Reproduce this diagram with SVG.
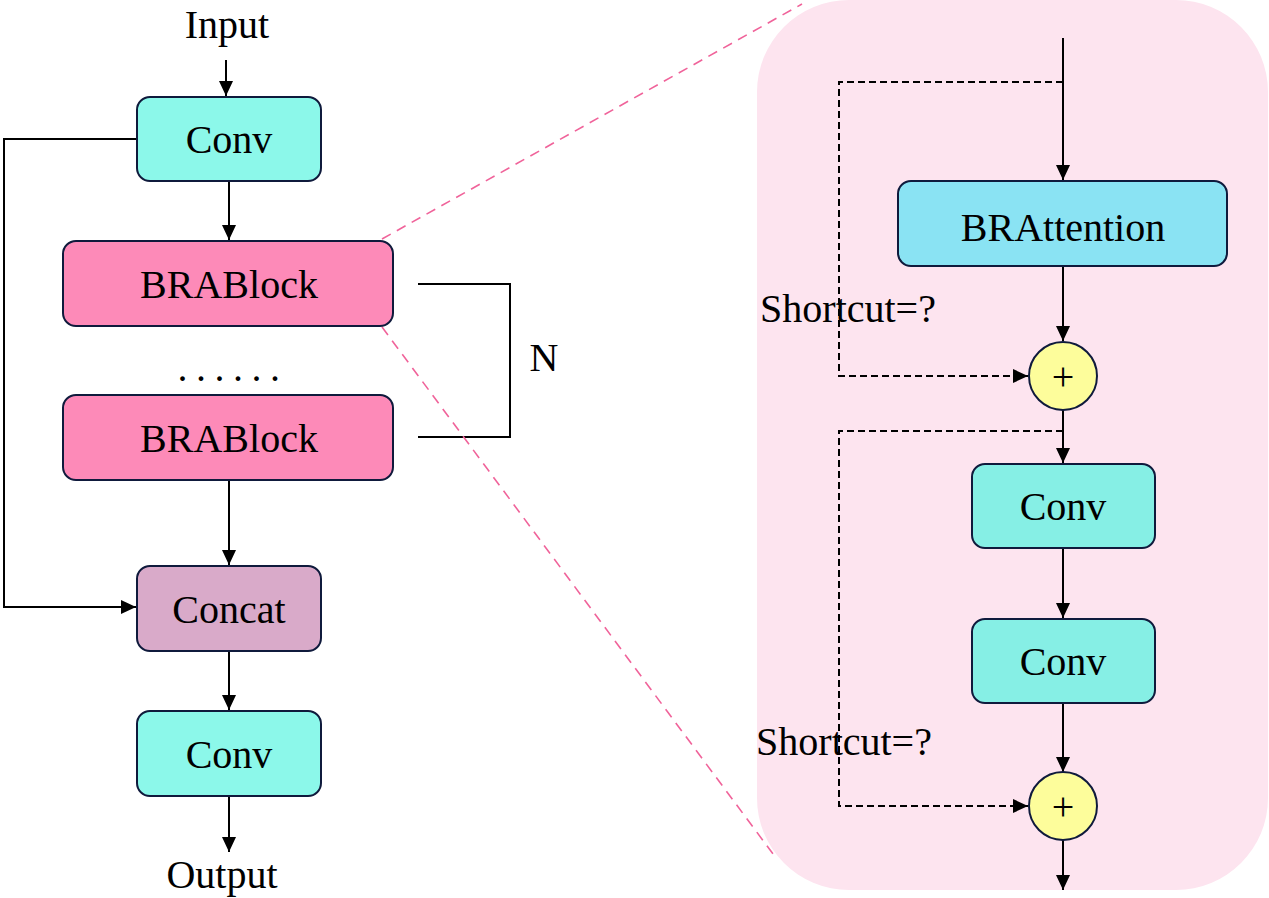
<svg xmlns="http://www.w3.org/2000/svg" width="1269" height="898" viewBox="0 0 1269 898">
<style>
  .t { font-family: "Liberation Serif", "Times New Roman", serif; font-size: 40px; fill: #000; text-anchor: middle; }
  .box { stroke: #0f1a3c; stroke-width: 2; }
  .conv { fill: #8cf8ea; }
  .conv2 { fill: #86efe5; }
  .bra { fill: #fd8ab8; }
  .concat { fill: #d9aac9; }
  .att { fill: #8ae3f3; }
  .add { fill: #fdfd9b; stroke: #0f1a3c; stroke-width: 2; }
  .plus { font-size: 40px; font-weight: 300; }
  .ln { fill: none; stroke: #000; stroke-width: 2; }
  .dash { fill: none; stroke: #000; stroke-width: 2; stroke-dasharray: 7 4; }
  .pink { fill: none; stroke: #f0639a; stroke-width: 1.6; stroke-dasharray: 10 7; }
</style>
<defs>
  <marker id="arr" markerUnits="userSpaceOnUse" markerWidth="15" markerHeight="14" refX="15" refY="7" orient="auto">
    <path d="M0,0 L15,7 L0,14 z" fill="#000"/>
  </marker>
</defs>

<!-- zoom panel -->
<g id="panel">
  <rect x="757" y="0" width="511" height="890" rx="92" ry="92" fill="#fde4ef"/>
</g>

<g id="connectors">
  <!-- left column -->
  <line class="ln" x1="226" y1="60" x2="226" y2="96" marker-end="url(#arr)"/>
  <line class="ln" x1="229" y1="181" x2="229" y2="240" marker-end="url(#arr)"/>
  <line class="ln" x1="229" y1="480" x2="229" y2="565" marker-end="url(#arr)"/>
  <line class="ln" x1="229" y1="651" x2="229" y2="710" marker-end="url(#arr)"/>
  <line class="ln" x1="229" y1="796" x2="229" y2="852" marker-end="url(#arr)"/>
  <polyline class="ln" points="137,139 4,139 4,607 136,607" marker-end="url(#arr)"/>
  <!-- N bracket -->
  <polyline class="ln" points="418,284 510,284 510,437 418,437"/>
  <!-- zoom lines -->
  <line class="pink" x1="382" y1="239" x2="802" y2="4"/>
  <line class="pink" x1="382" y1="327" x2="776" y2="858"/>
  <!-- right column -->
  <line class="ln" x1="1063" y1="38" x2="1063" y2="180" marker-end="url(#arr)"/>
  <line class="ln" x1="1063" y1="266" x2="1063" y2="341" marker-end="url(#arr)"/>
  <polyline class="dash" points="1063,82 839,82 839,376 1028,376" marker-end="url(#arr)"/>
  <line class="ln" x1="1063" y1="410" x2="1063" y2="463" marker-end="url(#arr)"/>
  <polyline class="dash" points="1063,431 839,431 839,806 1028,806" marker-end="url(#arr)"/>
  <line class="ln" x1="1063" y1="548" x2="1063" y2="618" marker-end="url(#arr)"/>
  <line class="ln" x1="1063" y1="703" x2="1063" y2="772" marker-end="url(#arr)"/>
  <line class="ln" x1="1063" y1="840" x2="1063" y2="890" marker-end="url(#arr)"/>
</g>

<g id="input"><text class="t" x="227" y="38">Input</text></g>
<g id="conv1">
  <rect class="box conv" x="137" y="97" width="184" height="84" rx="13"/>
  <text class="t" x="229" y="153">Conv</text>
</g>
<g id="brablock1">
  <rect class="box bra" x="63" y="241" width="330" height="85" rx="13"/>
  <text class="t" x="229" y="298">BRABlock</text>
</g>
<g id="dots"><text class="t" x="233" y="381" style="letter-spacing:8.5px">......</text></g>
<g id="brablock2">
  <rect class="box bra" x="63" y="395" width="330" height="85" rx="13"/>
  <text class="t" x="229" y="452">BRABlock</text>
</g>
<g id="n-label"><text class="t" x="544" y="371">N</text></g>
<g id="concat">
  <rect class="box concat" x="137" y="566" width="184" height="85" rx="13"/>
  <text class="t" x="229" y="623">Concat</text>
</g>
<g id="conv2">
  <rect class="box conv" x="137" y="711" width="184" height="85" rx="13"/>
  <text class="t" x="229" y="768">Conv</text>
</g>
<g id="output"><text class="t" x="222" y="888">Output</text></g>

<g id="brattention">
  <rect class="box att" x="898" y="181" width="329" height="85" rx="13"/>
  <text class="t" x="1063" y="241">BRAttention</text>
</g>
<g id="add1">
  <circle class="add" cx="1063" cy="376" r="34"/>
  <text class="t plus" x="1063" y="390">+</text>
</g>
<g id="shortcut1"><text class="t" x="848" y="322">Shortcut=?</text></g>
<g id="conv3">
  <rect class="box conv2" x="972" y="464" width="183" height="84" rx="13"/>
  <text class="t" x="1063" y="520">Conv</text>
</g>
<g id="conv4">
  <rect class="box conv2" x="972" y="619" width="183" height="84" rx="13"/>
  <text class="t" x="1063" y="675">Conv</text>
</g>
<g id="shortcut2"><text class="t" x="844" y="755">Shortcut=?</text></g>
<g id="add2">
  <circle class="add" cx="1063" cy="806" r="34"/>
  <text class="t plus" x="1063" y="820">+</text>
</g>
</svg>
